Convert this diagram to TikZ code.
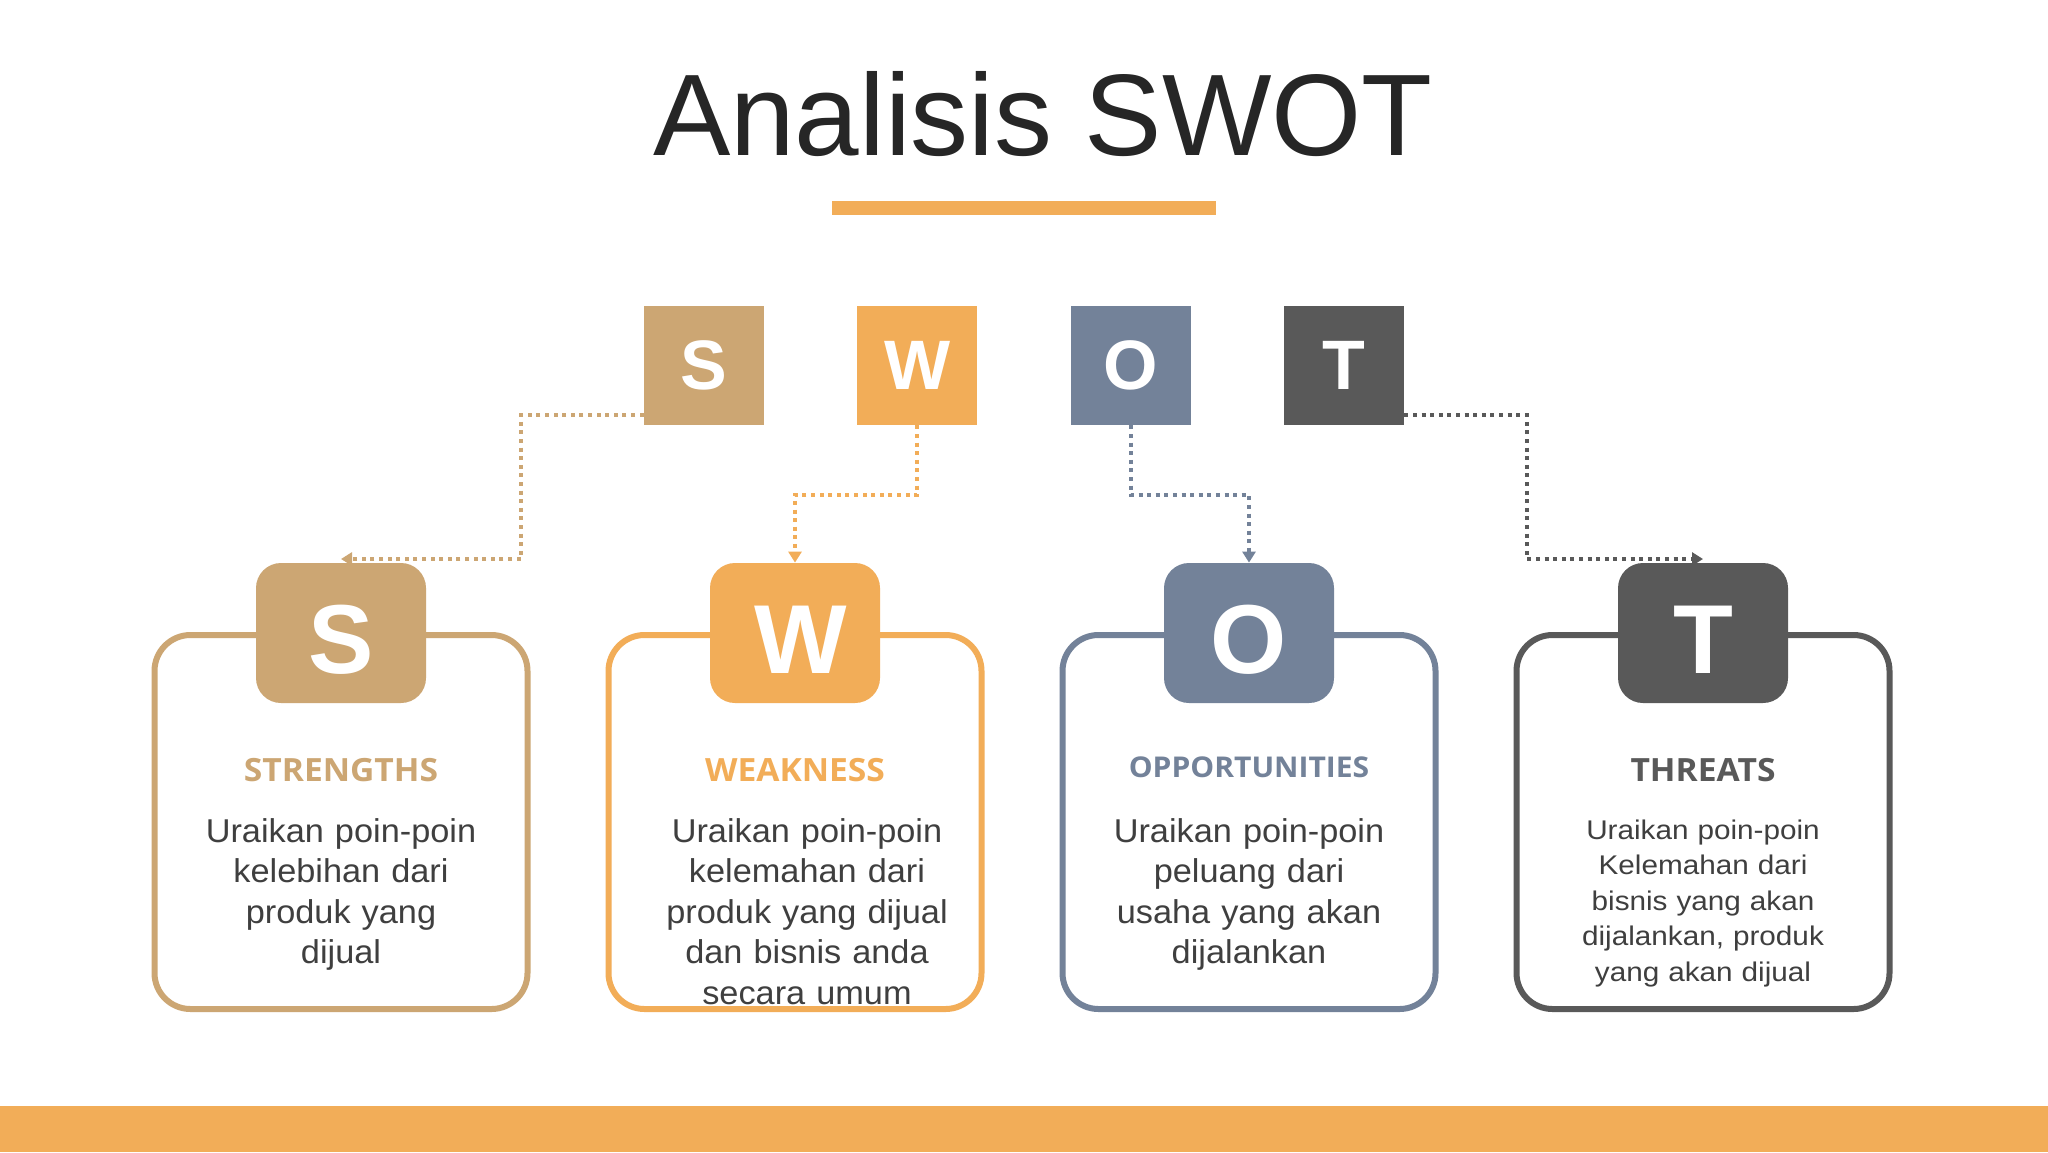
\documentclass[tikz,border=0pt]{standalone}
\usepackage{fontspec}
\setmainfont{Liberation Sans}
\newfontfamily\bodyfont{Liberation Sans}[FakeStretch=1.04]
\newfontfamily\bodyfontT{Liberation Sans}[FakeStretch=1.1]
\newfontfamily\headfont{Open Sans}[FakeStretch=1.05]
\usetikzlibrary{arrows.meta,calc}
\definecolor{cS}{HTML}{CCA673}
\definecolor{cW}{HTML}{F2AD58}
\definecolor{cO}{HTML}{738299}
\definecolor{cT}{HTML}{595959}
\definecolor{txt}{HTML}{3F3F3F}
\definecolor{ttl}{HTML}{262626}
\begin{document}
\begin{tikzpicture}[x=0.5pt,y=-0.5pt,
 smallbox/.style={fill=#1, minimum width=60pt, minimum height=59.5pt, inner sep=0pt, text=white, font=\fontsize{35}{35}\selectfont\bfseries},
 card/.style={draw=#1, line width=3pt, fill=white, rounded corners=18pt, minimum width=186.5pt, minimum height=187pt, inner sep=0pt},
 badge/.style={fill=#1, rounded corners=12.5pt, minimum width=85pt, minimum height=70pt, inner sep=0pt},
 badgeletter/.style={anchor=base, text=white, font=\fontsize{49}{49}\selectfont\bfseries, inner sep=0pt},
 heading/.style={anchor=base, text=#1, font=\headfont\bfseries\fontsize{16}{16}\selectfont, inner sep=0pt},
 body/.style={anchor=base, text=txt, text width=180pt, align=center, inner sep=0pt, font=\bodyfont\fontsize{16.5}{20.3}\selectfont},
 bodysmall/.style={anchor=base, text=txt, text width=180pt, align=center, inner sep=0pt, font=\bodyfontT\fontsize{13.5}{17.75}\selectfont},
 link/.style={draw=#1, line width=2pt, dash pattern=on 2pt off 2.3pt, -{Triangle[length=5.5pt,width=6.5pt]}},
]
\useasboundingbox (0,0) rectangle (2048,1152);
\fill[white] (0,0) rectangle (2048,1152);

% title
\node[anchor=base, text=ttl, font=\fontsize{58}{58}\selectfont, inner sep=0pt] (title) at (1043,155) {Analisis SWOT};
\fill[cW] (832,201) rectangle (1216,215);
\fill[cW] (0,1106) rectangle (2048,1152);

% small boxes
\node[smallbox=cS] (sS) at (704,365.5) {S};
\node[smallbox=cW] (sW) at (917.3,365.5) {W};
\node[smallbox=cO] (sO) at (1130.7,365.5) {O};
\node[smallbox=cT] (sT) at (1344,365.5) {T};

% cards
\node[card=cS] (cardS) at (341,822) {};
\node[card=cW] (cardW) at (795,822) {};
\node[card=cO] (cardO) at (1249,822) {};
\node[card=cT] (cardT) at (1703,822) {};

% badges
\node[badge=cS] (bS) at (341,633) {};
\node[badge=cW] (bW) at (795,633) {};
\node[badge=cO] (bO) at (1249,633) {};
\node[badge=cT] (bT) at (1703,633) {};
\node[badgeletter] (lS) at (341,673) {S};
\node[badgeletter] (lW) at (801,673) {W};
\node[badgeletter] (lO) at (1249,673) {O};
\node[badgeletter] (lT) at (1703,673) {T};

% headings
\node[heading=cS] (hS) at (341,781) {STRENGTHS};
\node[heading=cW] (hW) at (795,781) {WEAKNESS};
\node[heading=cO, font=\headfont\bfseries\fontsize{14.3}{14.3}\selectfont] (hO) at (1249,777) {OPPORTUNITIES};
\node[heading=cT] (hT) at (1703,781) {THREATS};

% body texts
\node[body] (xS) at (341,842) {Uraikan poin-poin\\kelebihan dari\\produk yang\\dijual};
\node[body] (xW) at (807,842) {Uraikan poin-poin\\kelemahan dari\\produk yang dijual\\dan bisnis anda\\secara umum};
\node[body] (xO) at (1249,842) {Uraikan poin-poin\\peluang dari\\usaha yang akan\\dijalankan};
\node[bodysmall] (xT) at (1703,839) {Uraikan poin-poin\\Kelemahan dari\\bisnis yang akan\\dijalankan, produk\\yang akan dijual};

% connector bends
\coordinate (kS) at (521,559);
\coordinate (tipS) at (341,559);
\coordinate (kW) at (795,495);
\coordinate (kO) at (1249,495);
\coordinate (kT) at (1527,559);
\coordinate (tipT) at (1703,559);

\draw[link=cS] ($(sS.south west)+(0,-10)$) -| (kS) -- (tipS);
\draw[link=cW] (sW.south) |- (kW) -- (bW.north);
\draw[link=cO] (sO.south) |- (kO) -- (bO.north);
\draw[link=cT] ($(sT.south east)+(0,-10)$) -| (kT) -- (tipT);
\end{tikzpicture}
\end{document}
